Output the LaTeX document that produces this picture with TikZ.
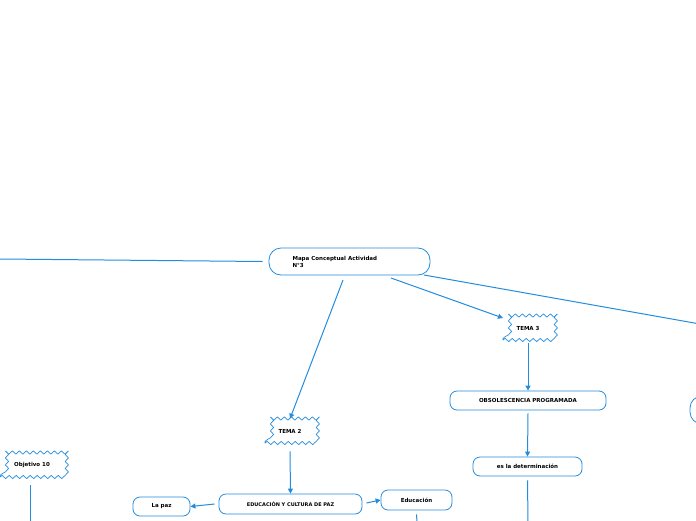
\documentclass[tikz,border=0pt]{standalone}
\usepackage{fontspec}
\setmainfont{DejaVu Sans}
\usetikzlibrary{decorations.pathmorphing,arrows.meta}
\definecolor{mblue}{RGB}{35,140,220}
\begin{document}
\begin{tikzpicture}[x=1pt,y=-1pt,
  box/.style={draw=mblue,line width=0.8pt,rounded corners=7pt,font=\bfseries\fontsize{5.5}{7}\selectfont,inner sep=0pt},
  wavy/.style={draw=mblue,line width=0.7pt,decorate,decoration={snake,segment length=7pt,amplitude=1.6pt},font=\bfseries\fontsize{5.5}{7}\selectfont,minimum width=50pt,minimum height=24pt,inner sep=0pt},
  con/.style={draw=mblue,line width=1pt},
  arr/.style={con,-{Triangle[length=5pt,width=5pt]}}]
\useasboundingbox (0,0) rectangle (696,520);
\begin{scope}
\clip (0,0) rectangle (696,520);
\node[box,minimum width=161pt,minimum height=27pt,rounded corners=12pt] (main) at (349.5,261.5) {};
\node[font=\bfseries\fontsize{5.5}{7}\selectfont,align=left,anchor=west] (maintxt) at (289,261.5) {Mapa Conceptual Actividad\\N°3};
\coordinate (lend) at (0,259);
\coordinate (rend) at (700,324);
\node[wavy] (t3) at (528,328) {TEMA 3};
\node[wavy] (t2) at (290,431) {TEMA 2};
\node[wavy,minimum width=64pt] (o10) at (32,465) {Objetivo 10};
\node[box,minimum width=156pt,minimum height=19pt] (obs) at (528,400.5) {OBSOLESCENCIA PROGRAMADA};
\node[box,minimum width=109pt,minimum height=19pt] (det) at (527.5,466.5) {es la determinación};
\node[box,minimum width=143pt,minimum height=20pt,font=\bfseries\fontsize{5}{6}\selectfont] (edu) at (290.5,504) {EDUCACIÓN Y CULTURA DE PAZ};
\node[box,minimum width=57pt,minimum height=19pt] (paz) at (161.5,506.5) {La paz};
\node[box,minimum width=71pt,minimum height=20pt] (educ) at (416.5,500) {Educación};
\node[box,minimum width=80pt,minimum height=28pt,rounded corners=12pt] (rnode) at (730,410) {};
\coordinate (b1) at (30,522);
\coordinate (b2) at (528,522);
\coordinate (b3) at (417,522);
\draw[con] (main.west) ++(-6,0) -- (lend);
\draw[con] (424,275) -- (rend);
\draw[arr] (343,280) -- (t2.north);
\draw[arr] (391,278) -- (503,318);
\draw[arr] (t3.south) ++(0,3) -- (obs.north);
\draw[arr] (obs.south) ++(0,3) -- (det.north);
\draw[con] (det.south) ++(0,4) -- (b2);
\draw[arr] (t2.south) ++(0,8) -- (edu.north);
\draw[arr] (edu.west) ++(-4,0) -- (paz.east);
\draw[arr] (edu.east) ++(4,-1) -- (educ.west);
\draw[con] (educ.south) ++(0,4) -- (b3);
\draw[con] (o10.south) ++(-2,8) -- (b1);
\end{scope}
\end{tikzpicture}
\end{document}
